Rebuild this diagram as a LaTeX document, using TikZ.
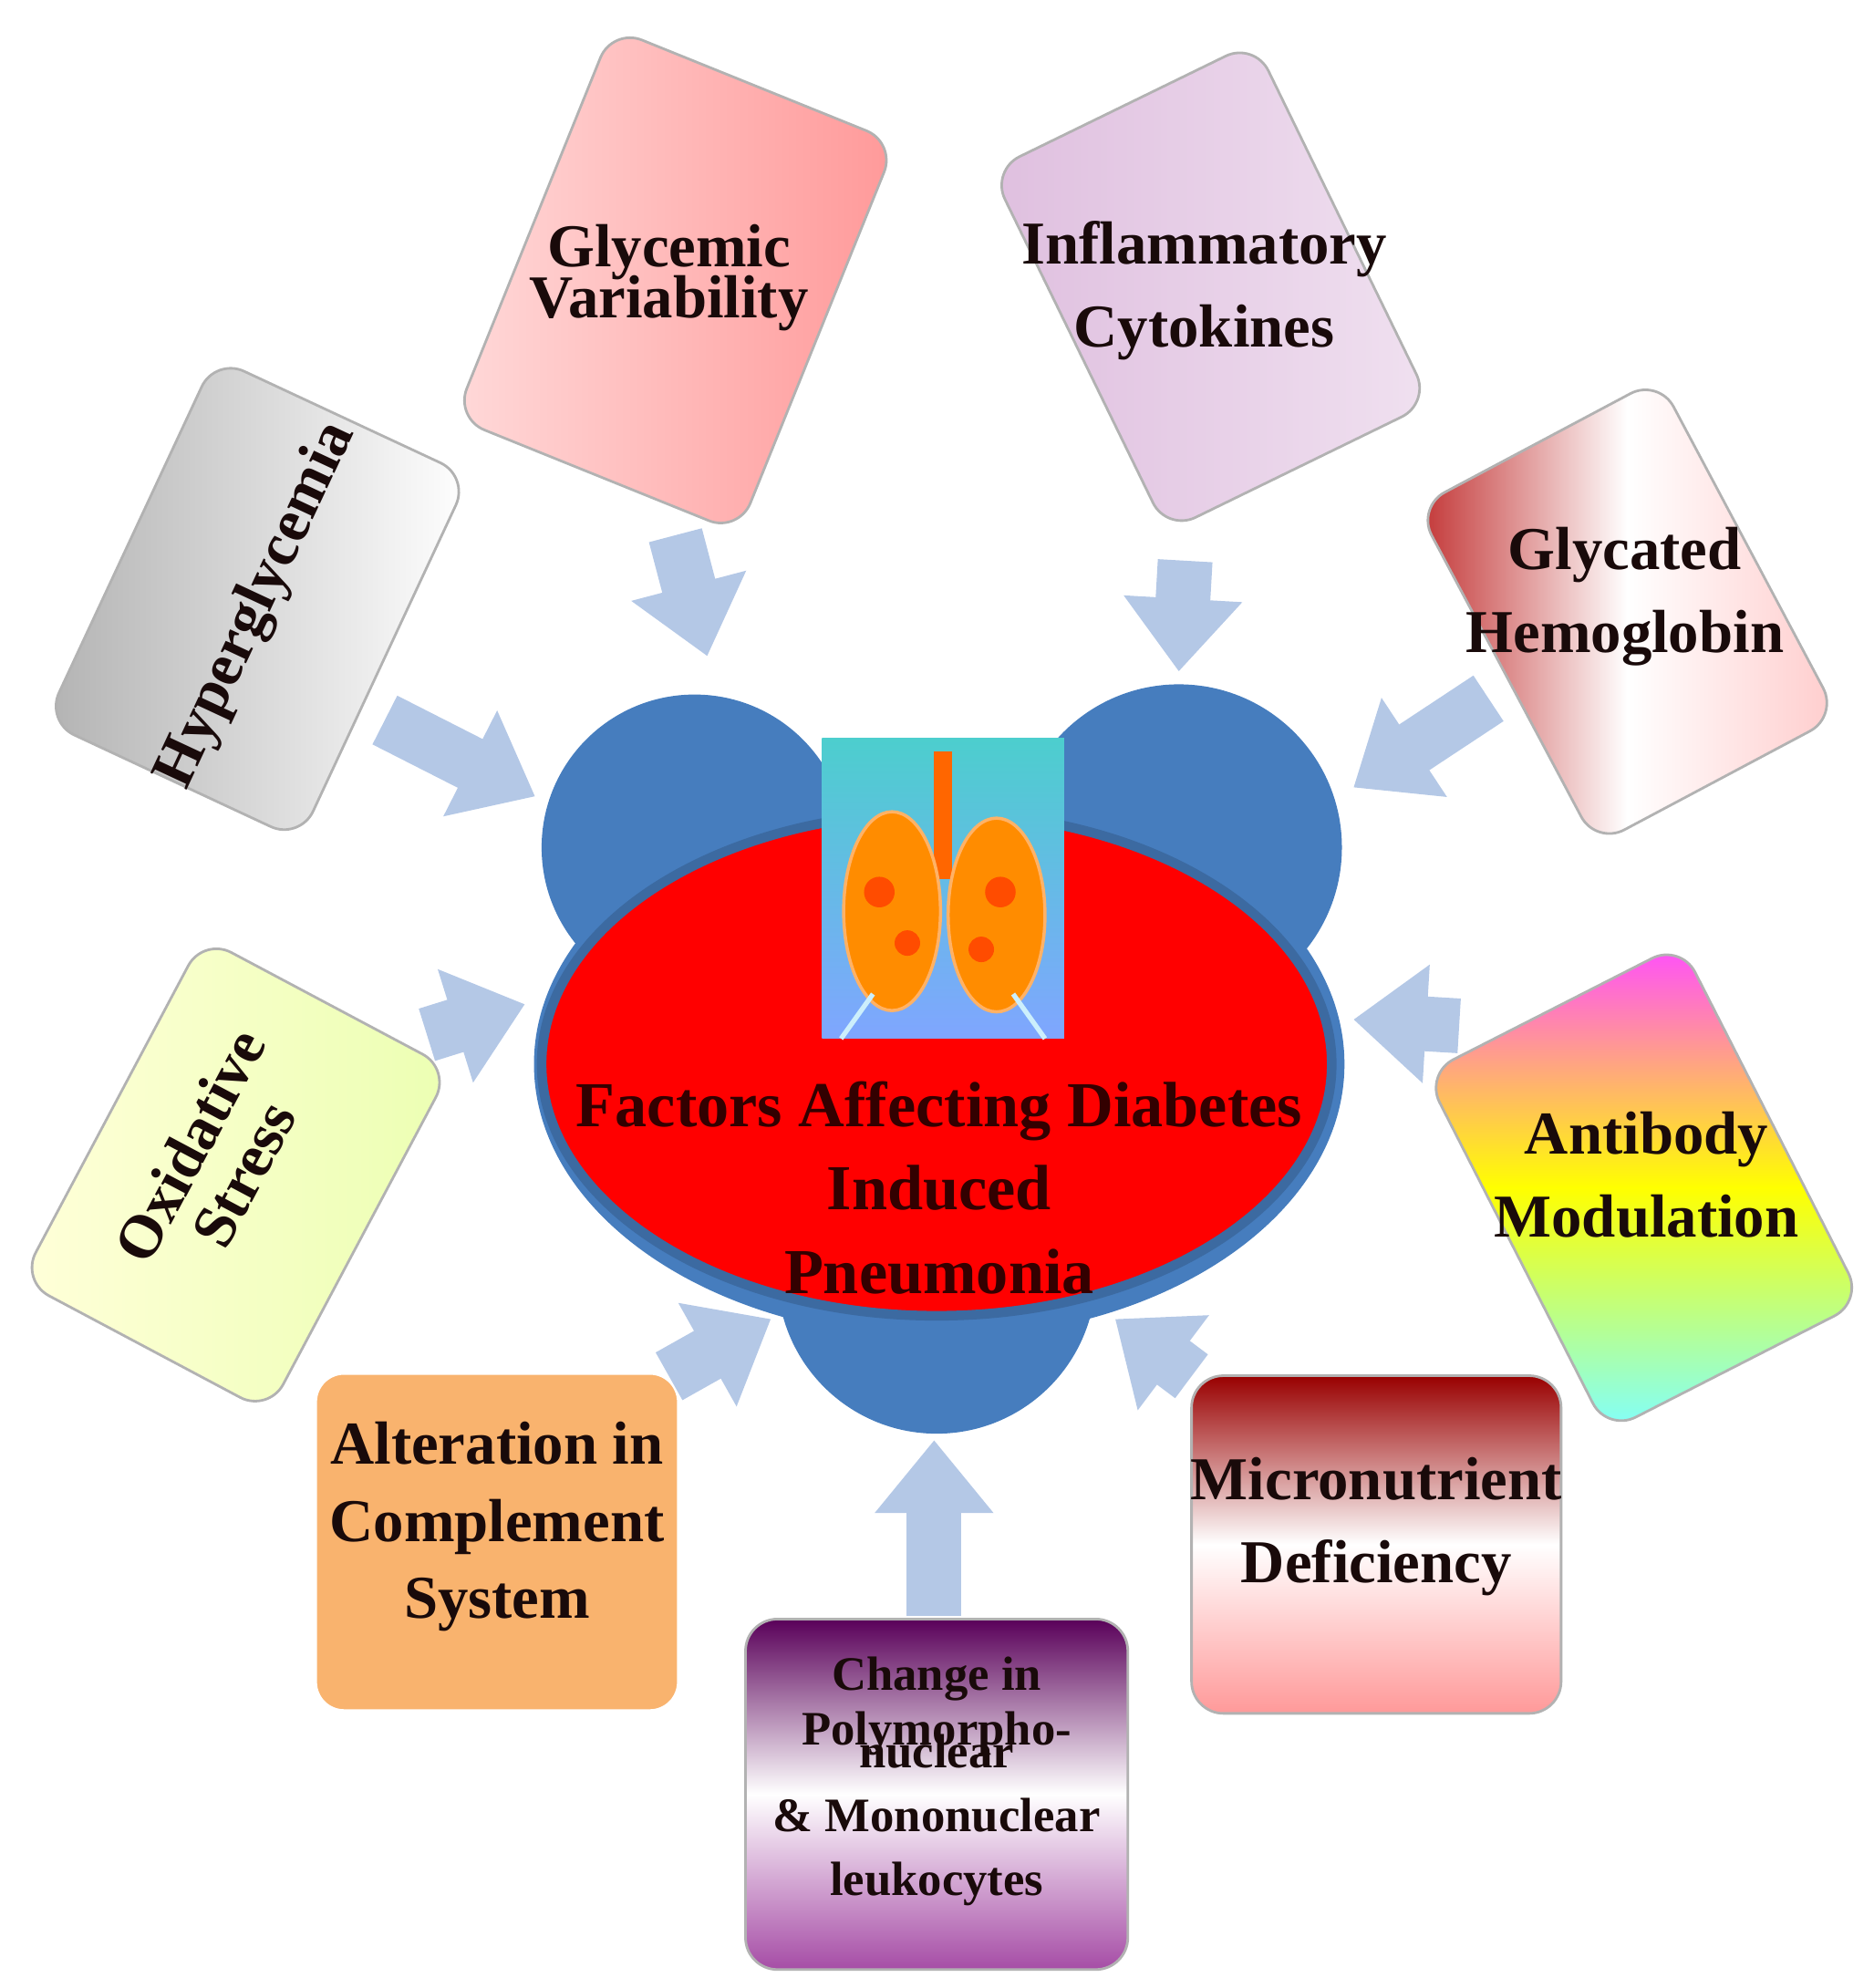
\documentclass[tikz,border=0pt]{standalone}
\usepackage{fontspec}
\setmainfont{Liberation Serif}
\usetikzlibrary{arrows.meta,shapes.geometric}
\definecolor{arr}{RGB}{180,200,230}
\definecolor{blob}{RGB}{70,125,190}
\definecolor{txt}{RGB}{25,10,10}
\tikzset{
  fbox/.style={draw=gray!60,line width=0.8pt,rounded corners=0.35cm,inner sep=0pt},
  lbl/.style={font=\fontsize{19}{22}\selectfont\bfseries,text=txt,align=center},
  barrow/.style={draw=arr,line width=0.6cm,-{Triangle[width=1.25cm,length=0.8cm]}},
}
\begin{document}
\begin{tikzpicture}[x=0.01398cm,y=-0.01398cm]
\useasboundingbox (0,0) rectangle (1470,1560);
% central blob
\fill[blob] (545,665) circle (120);
\fill[blob] (925,665) circle (128);
\fill[blob] (735,1000) circle (125);
\fill[blob] (737,835) ellipse (318 and 215);
\node[ellipse,draw=blob!85!black,line width=3pt,fill=red,minimum width=620*0.01398cm,minimum height=395*0.01398cm] (core) at (735,835) {};
% lung image
\node[draw=none,inner sep=0pt,minimum width=190*0.01398cm,minimum height=235*0.01398cm,top color=cyan!45!teal!70,bottom color=cyan!30!blue!50] (lung) at (740,697) {};
\fill[orange!80!red] (733,590) rectangle (747,690);
\fill[orange!90!yellow,draw=orange!60!white,line width=1pt] (700,715) ellipse (38 and 78);
\fill[orange!90!yellow,draw=orange!60!white,line width=1pt] (782,718) ellipse (38 and 76);
\fill[orange!60!red] (690,700) circle (12) (712,740) circle (10) (785,700) circle (12) (770,745) circle (10);
\draw[cyan!20,line width=1.5pt] (660,815) -- (685,780) (820,815) -- (795,780);
\node[lbl,font=\fontsize{20}{24}\selectfont\bfseries,text=red!20!black] (ctext) at (737,932) {Factors Affecting Diabetes\\[2pt] Induced\\[2pt] Pneumonia};
% boxes
\node[fbox,minimum width=315*0.01398cm,minimum height=220*0.01398cm,rotate=65,left color=gray!60,right color=white] (hyp) at (202,470) {};
\node[lbl,rotate=65] at (202,475) {Hyperglycemia};
\node[fbox,minimum width=330*0.01398cm,minimum height=240*0.01398cm,rotate=68,left color=red!15,right color=red!40!white] (gly) at (530,220) {};
\node[lbl] at (525,218) {Glycemic\\[-6pt]Variability};
\node[fbox,minimum width=315*0.01398cm,minimum height=230*0.01398cm,rotate=-64,left color=violet!25,right color=violet!12] (inf) at (950,225) {};
\node[lbl] at (945,228) {Inflammatory\\[4pt]Cytokines};
\node[fbox,minimum width=300*0.01398cm,minimum height=215*0.01398cm,rotate=-62,left color=red!70!black!80,right color=red!20,middle color=white] (ghb) at (1277,480) {};
\node[lbl] at (1275,468) {Glycated\\[4pt]Hemoglobin};
\node[fbox,minimum width=305*0.01398cm,minimum height=220*0.01398cm,rotate=62,left color=yellow!15,right color=lime!30] (oxi) at (185,922) {};
\node[lbl,rotate=62] at (170,910) {Oxidative\\[-3pt]Stress};
\node[fbox,minimum width=315*0.01398cm,minimum height=225*0.01398cm,rotate=-63,top color=magenta!70,bottom color=cyan!50,middle color=yellow] (ant) at (1290,932) {};
\node[lbl] at (1292,922) {Antibody\\[4pt]Modulation};
\node[fbox,draw=white,line width=3pt,minimum width=290*0.01398cm,minimum height=270*0.01398cm,fill=orange!55!white!90!brown] (alt) at (390,1210) {};
\node[lbl] at (390,1198) {Alteration in\\[2pt]Complement\\[2pt]System};
\node[fbox,minimum width=290*0.01398cm,minimum height=265*0.01398cm,top color=red!60!black,bottom color=red!40,middle color=white] (mic) at (1080,1212) {};
\node[lbl] at (1080,1198) {Micronutrient\\[4pt]Deficiency};
\node[fbox,minimum width=300*0.01398cm,minimum height=275*0.01398cm,top color=violet!70!black,bottom color=violet!70,middle color=white] (chg) at (735,1408) {};
\node[lbl,font=\fontsize{15}{17}\selectfont\bfseries] at (735,1398) {Change in\\Polymorpho-\\[-10pt]nuclear\\[3pt]\& Mononuclear\\[3pt]leukocytes};
% arrows
\coordinate (a1) at (555,515); \coordinate (b1) at (530,420);
\draw[barrow] (b1) -- (a1);
\coordinate (a2) at (925,527); \coordinate (b2) at (930,440);
\draw[barrow] (b2) -- (a2);
\coordinate (a3) at (420,625); \coordinate (b3) at (302,565);
\draw[barrow] (b3) -- (a3);
\coordinate (a4) at (1062,618); \coordinate (b4) at (1168,548);
\draw[barrow] (b4) -- (a4);
\coordinate (a5) at (412,788); \coordinate (b5) at (335,812);
\draw[barrow] (b5) -- (a5);
\coordinate (a6) at (1062,800); \coordinate (b6) at (1145,805);
\draw[barrow] (b6) -- (a6);
\coordinate (a7) at (605,1035); \coordinate (b7) at (525,1080);
\draw[barrow] (b7) -- (a7);
\coordinate (a8) at (875,1035); \coordinate (b8) at (935,1080);
\draw[barrow] (b8) -- (a8);
\coordinate (a9) at (733,1130); \coordinate (b9) at (733,1268);
\draw[barrow] (b9) -- (a9);
\end{tikzpicture}
\end{document}
